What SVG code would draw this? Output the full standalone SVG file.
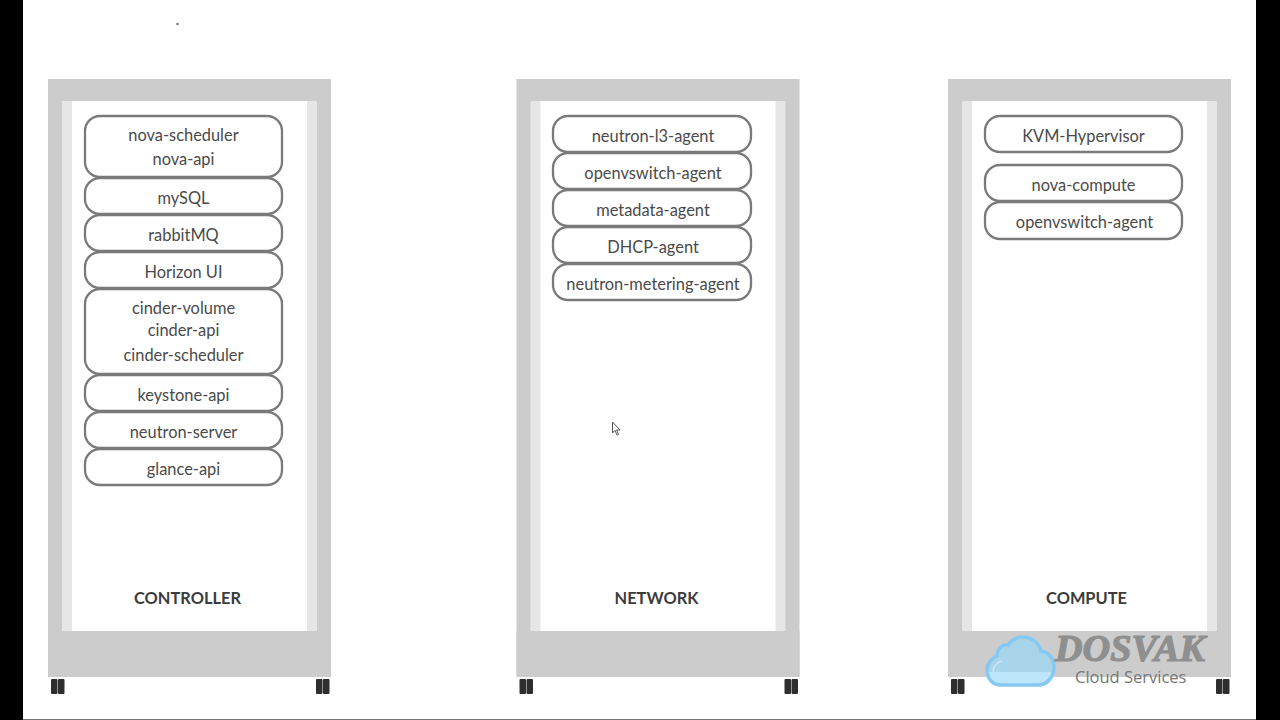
<svg xmlns="http://www.w3.org/2000/svg" width="1280" height="720" viewBox="0 0 1280 720">
<style>
.t{font-family:Lato,"Open Sans",sans-serif;font-size:16.4px;fill:#4a4a4a;text-anchor:middle}
.h{font-family:Lato,"Open Sans",sans-serif;font-size:16.4px;font-weight:700;fill:#3c3c3c;text-anchor:middle}
.b{fill:#fff;stroke:#7a7a7a;stroke-width:2.3}
.g{fill:#cccccc}.l{fill:#e6e6e6}.w{fill:#2e2e2e}
</style>
<defs>
<linearGradient id="cl" x1="0" y1="0" x2="0" y2="1">
<stop offset="0" stop-color="#a6d3e8"/><stop offset="0.72" stop-color="#a9d6ea"/><stop offset="0.74" stop-color="#bde6fb"/><stop offset="1" stop-color="#bde6fb"/>
</linearGradient>
<g id="rack">
<rect class="g" x="0" y="0" width="283" height="598"/>
<rect class="l" x="14" y="22" width="255" height="530"/>
<rect fill="#fff" x="24" y="22" width="235" height="530"/>
<rect class="g" x="0" y="552" width="283" height="46"/>
<rect class="w" x="3" y="600" width="6.500" height="15" rx="1"/><rect class="w" x="10" y="600" width="6.500" height="15" rx="1"/>
<rect class="w" x="268" y="600" width="6.500" height="15" rx="1"/><rect class="w" x="275" y="600" width="6.500" height="15" rx="1"/>
</g>
</defs>
<rect width="1280" height="720" fill="#fff"/>
<rect x="0" y="0" width="23" height="720" fill="#000"/>
<rect x="1256" y="0" width="24" height="720" fill="#000"/>
<rect x="23" y="719" width="1233" height="1" fill="#777"/>
<rect x="176.500" y="23" width="2" height="2" fill="#666"/>
<g id="rack-controller" transform="translate(48 79)"><use href="#rack"/></g>
<g id="rack-network" transform="translate(516.500 79)"><use href="#rack"/></g>
<g id="rack-compute" transform="translate(948 79)"><use href="#rack"/></g>
<text class="h" x="187.500" y="603.500">CONTROLLER</text>
<text class="h" x="656.500" y="603.500">NETWORK</text>
<text class="h" x="1086.500" y="603.500">COMPUTE</text>
<g id="nova"><rect class="b" x="85" y="116" width="197" height="61" rx="15"/><text class="t" x="183.500" y="140.500">nova-scheduler</text><text class="t" x="183.500" y="165">nova-api</text></g>
<g id="mysql"><rect class="b" x="85" y="178" width="197" height="36" rx="15"/><text class="t" x="183.500" y="203.500">mySQL</text></g>
<g id="rabbitmq"><rect class="b" x="85" y="215" width="197" height="36" rx="15"/><text class="t" x="183.500" y="240.500">rabbitMQ</text></g>
<g id="horizon"><rect class="b" x="85" y="252" width="197" height="36" rx="15"/><text class="t" x="183.500" y="277.500">Horizon UI</text></g>
<g id="cinder"><rect class="b" x="85" y="289" width="197" height="85" rx="15"/><text class="t" x="183.500" y="314">cinder-volume</text><text class="t" x="183.500" y="336">cinder-api</text><text class="t" x="183.500" y="361">cinder-scheduler</text></g>
<g id="keystone"><rect class="b" x="85" y="375" width="197" height="36" rx="15"/><text class="t" x="183.500" y="400.500">keystone-api</text></g>
<g id="neutron-server"><rect class="b" x="85" y="412" width="197" height="36" rx="15"/><text class="t" x="183.500" y="437.500">neutron-server</text></g>
<g id="glance"><rect class="b" x="85" y="449" width="197" height="36" rx="15"/><text class="t" x="183.500" y="474.500">glance-api</text></g>
<g id="l3"><rect class="b" x="553" y="116" width="198" height="36" rx="15"/><text class="t" x="653" y="141.500">neutron-l3-agent</text></g>
<g id="ovs-net"><rect class="b" x="553" y="153" width="198" height="36" rx="15"/><text class="t" x="653" y="178.500">openvswitch-agent</text></g>
<g id="metadata"><rect class="b" x="553" y="190" width="198" height="36" rx="15"/><text class="t" x="653" y="215.500">metadata-agent</text></g>
<g id="dhcp"><rect class="b" x="553" y="227" width="198" height="36" rx="15"/><text class="t" x="653" y="252.500">DHCP-agent</text></g>
<g id="metering"><rect class="b" x="553" y="264" width="198" height="36" rx="15"/><text class="t" x="653" y="289.500">neutron-metering-agent</text></g>
<g id="kvm"><rect class="b" x="985" y="116" width="197" height="36" rx="15"/><text class="t" x="1083.500" y="141.500">KVM-Hypervisor</text></g>
<g id="nova-compute"><rect class="b" x="985" y="165" width="197" height="36" rx="15"/><text class="t" x="1083.500" y="190.500">nova-compute</text></g>
<g id="ovs-compute"><rect class="b" x="985" y="202" width="197" height="37" rx="15"/><text class="t" x="1084.500" y="227.500">openvswitch-agent</text></g>
<path d="M612.500 422v11l2.500-2.500 2 4.500 1.500-.7-2-4.300h3.500z" fill="#fff" stroke="#555" stroke-width="1"/>
<g id="logo">
<path d="M1001 685c-9 0-14-7-14-15 0-7 5-12 10-14 0-8 6-12 11-11 4-6 10-8 15-8 9 0 16 6 18 14 8 1 13 8 13 16 0 10-7 18-16 18z" fill="url(#cl)" stroke="#85c9f2" stroke-width="3.500"/>
<path d="M993 672c0-6 4-10 9-11" fill="none" stroke="#d4ecf7" stroke-width="1.200"/>
<text x="1055" y="661" font-family="'Liberation Serif',serif" font-weight="700" font-style="italic" font-size="37" fill="#8f8f8f" stroke="#8f8f8f" stroke-width="1.200" textLength="150" lengthAdjust="spacingAndGlyphs">DOSVAK</text>
<text x="1075" y="683" font-family="'Open Sans',sans-serif" font-size="16.500" fill="#777">Cloud Services</text>
</g>
</svg>
